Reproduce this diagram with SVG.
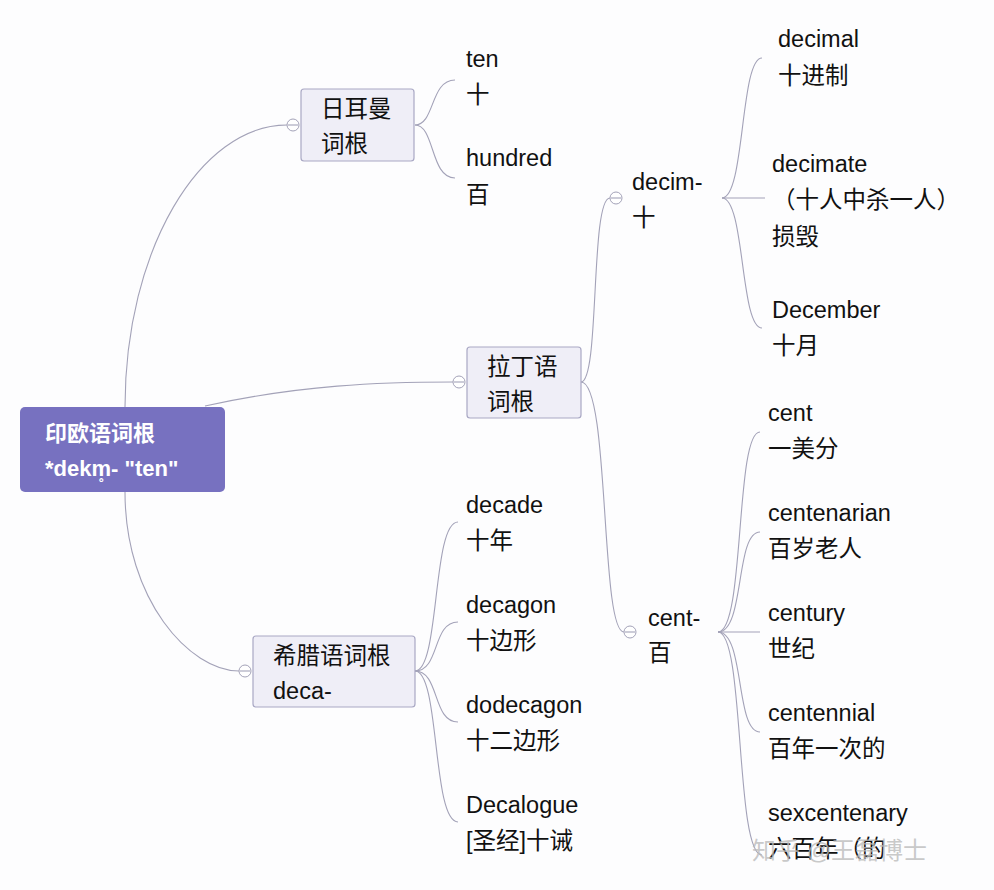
<svg xmlns="http://www.w3.org/2000/svg" width="994" height="890" viewBox="0 0 994 890">
<style>
text{font-family:"Liberation Sans","Noto Sans CJK SC",sans-serif;font-size:23.5px;fill:#111}
.n{fill:#efeef7;stroke:#a9a8c4;stroke-width:1.2}
.c path{fill:none;stroke:#a3a2b8;stroke-width:1.1}
.k{fill:#fff;stroke:#a3a2b8;stroke-width:1}
.r{fill:#fff;font-weight:bold;font-size:22px}
</style>
<rect width="994" height="890" fill="#fdfdfe"/>
<g class="c">
<path d="M125,407 C125,250 200,125 287,125"/>
<path d="M205,406 C300,385 380,382 453,382"/>
<path d="M125,492 C125,600 190,671 239,671"/>
<path d="M415,125 C435,125 430,80 455,80"/>
<path d="M415,125 C435,125 430,178 455,178"/>
<path d="M581,382 C600,382 590,198 610,198"/>
<path d="M581,382 C610,382 600,632 624,632"/>
<path d="M722,198 C745,198 740,58 762,58"/>
<path d="M722,198 L765,198"/>
<path d="M722,198 C745,198 740,328 762,328"/>
<path d="M718,632 C745,632 735,432 760,432"/>
<path d="M718,632 C745,632 735,532 760,532"/>
<path d="M718,632 C745,632 735,632 760,632"/>
<path d="M718,632 C745,632 735,732 760,732"/>
<path d="M718,632 C745,632 735,855 762,855"/>
<path d="M415,671 C440,671 432,522 458,522"/>
<path d="M415,671 C440,671 432,622 458,622"/>
<path d="M415,671 C440,671 432,722 458,722"/>
<path d="M415,671 C440,671 432,822 458,822"/>
<circle class="k" cx="293" cy="125" r="6"/><path d="M288,125h10"/>
<circle class="k" cx="459" cy="382" r="6"/><path d="M454,382h10"/>
<circle class="k" cx="245" cy="671" r="6"/><path d="M240,671h10"/>
<circle class="k" cx="616" cy="198" r="6"/><path d="M611,198h10"/>
<circle class="k" cx="630" cy="632" r="6"/><path d="M625,632h10"/>
</g>
<g id="root"><rect x="20" y="407" width="205" height="85" rx="5" fill="#7771c0"/><text class="r" x="45" y="441">印欧语词根</text><text class="r" x="45" y="476">*dekm̥- "ten"</text></g>
<g id="germanic"><rect class="n" x="301" y="89" width="113" height="72" rx="3"/><text x="321" y="117">日耳曼</text><text x="321" y="152">词根</text></g>
<g id="latin"><rect class="n" x="467" y="347" width="114" height="71" rx="3"/><text x="487" y="375">拉丁语</text><text x="487" y="410">词根</text></g>
<g id="greek"><rect class="n" x="253" y="636" width="162" height="71" rx="3"/><text x="273" y="664">希腊语词根</text><text x="273" y="699">deca-</text></g>
<g id="ten"><text x="466" y="67">ten</text><text x="466" y="103">十</text></g>
<g id="hundred"><text x="466" y="166">hundred</text><text x="466" y="203">百</text></g>
<g id="decim"><text x="632" y="190">decim-</text><text x="632" y="226">十</text></g>
<g id="cent"><text x="648" y="626">cent-</text><text x="648" y="661">百</text></g>
<g id="decimal"><text x="778" y="47">decimal</text><text x="778" y="84">十进制</text></g>
<g id="decimate"><text x="772" y="172">decimate</text><text x="772" y="208">（十人中杀一人）</text><text x="772" y="245">损毁</text></g>
<g id="december"><text x="772" y="318">December</text><text x="772" y="354">十月</text></g>
<g id="cent1"><text x="768" y="421">cent</text><text x="768" y="457">一美分</text></g>
<g id="centenarian"><text x="768" y="521">centenarian</text><text x="768" y="557">百岁老人</text></g>
<g id="century"><text x="768" y="621">century</text><text x="768" y="657">世纪</text></g>
<g id="centennial"><text x="768" y="721">centennial</text><text x="768" y="757">百年一次的</text></g>
<g id="sexcentenary"><text x="768" y="821">sexcentenary</text><text x="768" y="857">六百年（的</text></g>
<g id="decade"><text x="466" y="513">decade</text><text x="466" y="549">十年</text></g>
<g id="decagon"><text x="466" y="613">decagon</text><text x="466" y="649">十边形</text></g>
<g id="dodecagon"><text x="466" y="713">dodecagon</text><text x="466" y="749">十二边形</text></g>
<g id="decalogue"><text x="466" y="813">Decalogue</text><text x="466" y="849">[圣经]十诫</text></g>
<text x="752" y="859" style="fill:#bbb;fill-opacity:0.8;font-size:24px">知乎 @王磊博士</text>
</svg>
